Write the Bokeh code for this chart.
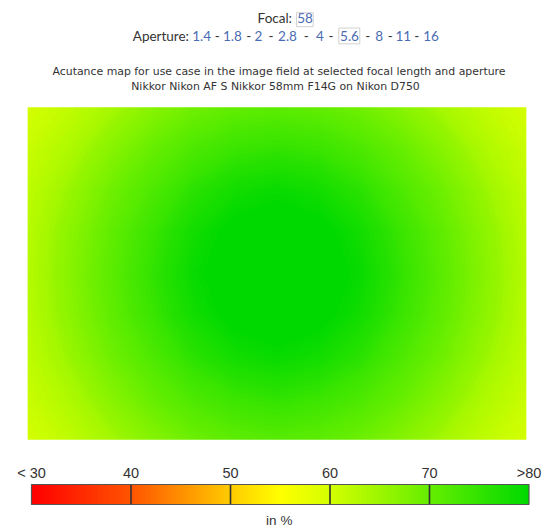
import numpy as np
from bokeh.plotting import figure
from bokeh.models import Range1d, LinearColorMapper
from bokeh.layouts import column
from bokeh.embed import file_html
from bokeh.resources import INLINE
from bokeh.core.properties import value

# ---------------- data ----------------
focal_label = "Focal"
focal_values = ["58"]
selected_focal = "58"
aperture_label = "Aperture"
aperture_values = ["1.4", "1.8", "2", "2.8", "4", "5.6", "8", "11", "16"]
selected_aperture = "5.6"
title_lines = [
    "Acutance map for use case in the image field at selected focal length and aperture",
    "Nikkor Nikon AF S Nikkor 58mm F14G on Nikon D750",
]
# acutance (%) read on a 13 x 9 lattice over the image field (edges included),
# rows from the top edge to the bottom edge, columns from left edge to right edge
acutance = [
    [60.0, 61.8, 64.2, 66.9, 69.1, 70.5, 71.0, 70.5, 69.1, 66.9, 64.2, 61.8, 60.0],
    [61.1, 63.5, 66.9, 70.0, 72.6, 74.4, 75.1, 74.4, 72.6, 70.0, 66.9, 63.5, 61.1],
    [62.0, 65.3, 69.1, 72.4, 75.8, 78.2, 79.2, 78.2, 75.8, 72.4, 69.1, 65.3, 62.0],
    [62.6, 66.5, 70.5, 74.4, 78.2, 80.9, 81.8, 80.9, 78.2, 74.4, 70.5, 66.5, 62.6],
    [62.8, 66.9, 71.0, 75.1, 79.2, 81.8, 84.0, 81.8, 79.2, 75.1, 71.0, 66.9, 62.8],
    [62.6, 66.5, 70.5, 74.4, 78.2, 80.9, 81.8, 80.9, 78.2, 74.4, 70.5, 66.5, 62.6],
    [62.0, 65.3, 69.1, 72.4, 75.8, 78.2, 79.2, 78.2, 75.8, 72.4, 69.1, 65.3, 62.0],
    [61.1, 63.5, 66.9, 70.0, 72.6, 74.4, 75.3, 74.4, 72.6, 70.0, 66.9, 63.5, 61.1],
    [60.0, 61.9, 64.4, 67.1, 69.4, 70.9, 71.5, 70.9, 69.4, 67.1, 64.4, 61.9, 60.0],
]
scale_ticks = [30, 40, 50, 60, 70, 80]
scale_labels = ["< 30", "40", "50", "60", "70", ">80"]
unit_label = "in %"

# ---------------- style ----------------
stop_v = [30, 40, 50, 55, 60, 70, 80]
stop_c = ["#ff0000", "#ff5500", "#ffcc00", "#ffff00", "#d4ff00", "#66ee00", "#00d900"]


def hex2rgb(h):
    return [int(h[i:i + 2], 16) for i in (1, 3, 5)]


rgb = np.array([hex2rgb(c) for c in stop_c], dtype=float)
NPAL = 256
palette = []
for v in np.linspace(30, 80, NPAL):
    r = np.interp(v, stop_v, rgb[:, 0])
    g = np.interp(v, stop_v, rgb[:, 1])
    b = np.interp(v, stop_v, rgb[:, 2])
    palette.append("#%02x%02x%02x" % (int(round(r)), int(round(g)), int(round(b))))

lo, hi = scale_ticks[0], scale_ticks[-1]
mapper = LinearColorMapper(palette=palette, low=lo, high=hi)


def colour_of(v):
    i = int(round((v - lo) / (hi - lo) * (NPAL - 1)))
    return palette[min(max(i, 0), NPAL - 1)]


HFONT = value("Lato")
TFONT = value("DejaVu Sans")
DARK = "#333333"
BLUE = "#4a6cb3"

W = 551
H_TOP = 448
H_BOT = 82


def base(y, size):
    # alphabetic baseline correction observed for svg text
    return y - 0.4 * size


# ---------------- top figure ----------------
p = figure(width=W, height=H_TOP, x_range=Range1d(0, W), y_range=Range1d(0, H_TOP),
           toolbar_location=None, output_backend="svg", x_axis_type=None, y_axis_type=None,
           min_border=0)
p.outline_line_color = None
p.grid.visible = False


def sy(y):
    return H_TOP - y

HS = 13.5
# header: focal
p.text(x=[291.5], y=[sy(base(23.3, HS))], text=[focal_label + ":"], text_font=HFONT,
       text_font_size=f"{HS}px", text_color=DARK, text_align="right", text_baseline="alphabetic")
p.text(x=[304.5], y=[sy(base(23.3, HS))], text=focal_values, text_font=HFONT,
       text_font_size=f"{HS}px", text_color=BLUE, text_align="center", text_baseline="alphabetic")
p.rect(x=[304.4], y=[sy(19.2)], width=16.6, height=14, fill_color=None, line_color="#d0d0d0",
       line_width=1)

# header: aperture
ap_centers = [201.2, 231.8, 258, 287, 319.3, 349, 378.7, 402.8, 430.5]
dash_centers = [216.7, 248.3, 270.5, 305.8, 330.5, 367.2, 389.7, 416.3]
p.text(x=[188.5], y=[sy(base(41, HS))], text=[aperture_label + ":"], text_font=HFONT,
       text_font_size=f"{HS}px", text_color=DARK, text_align="right", text_baseline="alphabetic")
p.text(x=ap_centers, y=[sy(base(41, HS))] * len(ap_centers), text=aperture_values, text_font=HFONT,
       text_font_size=f"{HS}px", text_color=BLUE, text_align="center", text_baseline="alphabetic")
p.text(x=dash_centers, y=[sy(base(41, HS))] * len(dash_centers), text=["-"] * len(dash_centers),
       text_font=HFONT, text_font_size=f"{HS}px", text_color=DARK, text_align="center",
       text_baseline="alphabetic")
sel = aperture_values.index(selected_aperture)
p.rect(x=[348.8], y=[sy(35.4)], width=21, height=15.8, fill_color=None,
       line_color="#d0d0d0", line_width=1)

# title
TS = 10.9
p.text(x=[278.5, 275], y=[sy(base(75.8, TS)), sy(base(90.5, TS))], text=title_lines, text_font=TFONT,
       text_font_size=f"{TS}px", text_color=DARK, text_align="center", text_baseline="alphabetic")

# heatmap: filled contour bands of the read lattice (fine bands give the smooth look).
# Two layers with staggered band edges so that no anti-aliasing seam shows through.
Z = np.flipud(np.array(acutance, dtype=float))
ny, nx = Z.shape
gx = np.linspace(27.3, 525.7, nx)
gy = np.linspace(sy(439), sy(107), ny)
for start in (58.8, 59.0):
    levels = list(np.arange(start, 85.21, 0.4))
    band_colours = [colour_of((a + b) / 2) for a, b in zip(levels[:-1], levels[1:])]
    p.contour(x=gx, y=gy, z=Z, levels=levels, fill_color=band_colours, line_color=None)

# ---------------- bottom figure (scale) ----------------
k = 497.5 / 50.0
x0 = 30 - 31 / k
x1 = 30 + (W - 31) / k
q = figure(width=W, height=H_BOT, x_range=Range1d(x0, x1), y_range=Range1d(0, H_BOT),
           toolbar_location=None, output_backend="svg", x_axis_type=None, y_axis_type=None,
           min_border=0)
q.outline_line_color = None
q.grid.visible = False


def sy2(y):
    return 530 - y

gradient = np.linspace(lo, hi, 600).reshape(1, -1)
q.image(image=[gradient], x=lo, y=sy2(504), dw=hi - lo, dh=20, color_mapper=mapper)
q.segment(x0=scale_ticks[1:-1], x1=scale_ticks[1:-1], y0=[sy2(504)] * 4, y1=[sy2(484)] * 4,
          line_color="#333333", line_width=1.6)
q.quad(left=[lo], right=[hi], bottom=[sy2(504)], top=[sy2(484)], fill_color=None,
       line_color="#555555", line_width=1.2)

LS = 14.5
q.text(x=scale_ticks, y=[sy2(base(478, LS))] * len(scale_ticks), text=scale_labels,
       text_font=value("Liberation Sans"), text_font_size=f"{LS}px", text_color=DARK,
       text_align="center", text_baseline="alphabetic")
US = 13.5
q.text(x=[54.9], y=[sy2(base(525.5, US))], text=[unit_label], text_font=value("Liberation Sans"),
       text_font_size=f"{US}px", text_color=DARK, text_align="center", text_baseline="alphabetic")

layout = column(p, q, spacing=0)
open("out.html", "w").write(file_html(layout, INLINE))
